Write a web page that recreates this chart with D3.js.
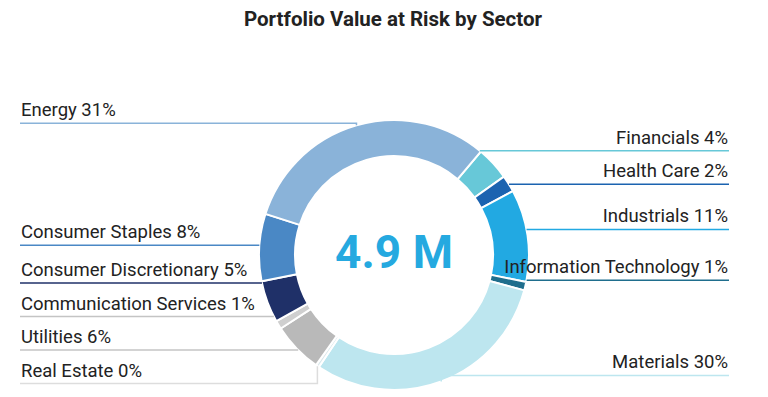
<!DOCTYPE html>
<html>
<head>
<meta charset="utf-8">
<script src="https://cdn.jsdelivr.net/npm/d3@7"></script>
<style>
  body { margin: 0; background: #fff; }
  svg { display: block; font-family: Roboto, "Noto Sans", sans-serif; }
</style>
</head>
<body>
<svg id="chart" width="768" height="397"></svg>
<script>
// data (clockwise from the top right)
const sectors = ["Financials", "Health Care", "Industrials", "Information Technology", "Materials",
  "Real Estate", "Utilities", "Communication Services", "Consumer Discretionary", "Consumer Staples", "Energy"];
const shares = [4, 2, 11, 1, 30, 0.4, 6, 1, 5, 8, 31];
const sliceColors = ["#67c8d8", "#1b63b0", "#22a9e2", "#1f6e8d", "#bde6ef",
  "#dbe8ec", "#b9b9b9", "#cfcfcf", "#1f3068", "#4a88c5", "#8ab3d9"];
const lineColors = ["#67c8d8", "#1b63b0", "#22a9e2", "#1f6e8d", "#bde6ef",
  "#dddddd", "#c4c4c4", "#c4c4c4", "#1f3068", "#4a88c5", "#8ab3d9"];
const chartTitle = "Portfolio Value at Risk by Sector";
const totalLabel = "4.9 M";

const cx = 394, cy = 255;
const outerR = 135, innerR = 99;
const leftX = 20, rightX = 729;
const gap = 33.5;

const svg = d3.select("#chart");

svg.append("text")
  .attr("x", 393).attr("y", 26)
  .attr("text-anchor", "middle")
  .style("font-size", "20.5px").style("font-weight", "bold").style("fill", "#222")
  .text(chartTitle);

const data = sectors.map((s, i) => ({ name: s, value: shares[i], color: sliceColors[i], line: lineColors[i] }));

const pie = d3.pie()
  .value(d => d.value)
  .sort(null)
  .startAngle(40 * Math.PI / 180)
  .endAngle(400 * Math.PI / 180);

const arc = d3.arc().innerRadius(innerR).outerRadius(outerR);

const arcs = pie(data);

const g = svg.append("g").attr("transform", `translate(${cx},${cy})`);

g.selectAll("path")
  .data(arcs)
  .join("path")
  .attr("d", arc)
  .attr("fill", d => d.data.color)
  .attr("stroke", "#fff")
  .attr("stroke-width", 2);

g.append("text")
  .attr("x", 0).attr("y", 13)
  .attr("text-anchor", "middle")
  .style("font-size", "46px").style("font-weight", "bold").style("fill", "#25a9e0")
  .text(totalLabel);

// anchors on the outer edge of each slice
arcs.forEach(a => {
  const m = (a.startAngle + a.endAngle) / 2;
  a.ax = cx + outerR * Math.sin(m);
  a.ay = cy - outerR * Math.cos(m);
  a.side = a.ax < cx ? "left" : "right";
  a.ly = a.ay + (a.side === "left" ? -2 : -6);
});

// spread labels on each side so they do not overlap
["left", "right"].forEach(side => {
  const items = arcs.filter(a => a.side === side).sort((p, q) => p.ly - q.ly);
  for (let k = 0; k < 300; k++) {
    for (let i = 1; i < items.length; i++) {
      const over = items[i - 1].ly + gap - items[i].ly;
      if (over > 0) {
        items[i - 1].ly -= over / 2;
        items[i].ly += over / 2;
      }
    }
  }
});

// leader: straight to the ring edge, or bent to the slice near the top/bottom
function leader(a) {
  const x0 = a.side === "left" ? leftX : rightX;
  const dy = a.ly - cy;
  if (Math.abs(dy) < 120) {
    const dx = Math.sqrt(outerR * outerR - dy * dy);
    const xe = a.side === "left" ? cx - dx : cx + dx;
    return [[x0, a.ly], [xe, a.ly]];
  }
  return [[x0, a.ly], [a.ax, a.ly], [a.ax, a.ay]];
}

const labels = svg.append("g");

labels.selectAll("polyline")
  .data(arcs)
  .join("polyline")
  .attr("points", a => leader(a).map(p => p.join(",")).join(" "))
  .attr("fill", "none")
  .attr("stroke", a => a.data.line)
  .attr("stroke-width", 1.5);

labels.selectAll("text")
  .data(arcs)
  .join("text")
  .attr("x", a => a.side === "left" ? leftX + 1 : rightX - 1)
  .attr("y", a => a.ly - 7)
  .attr("text-anchor", a => a.side === "left" ? "start" : "end")
  .style("font-size", "18.5px").style("fill", "#222")
  .text(a => `${a.data.name} ${Math.round(a.data.value)}%`);
</script>
</body>
</html>
